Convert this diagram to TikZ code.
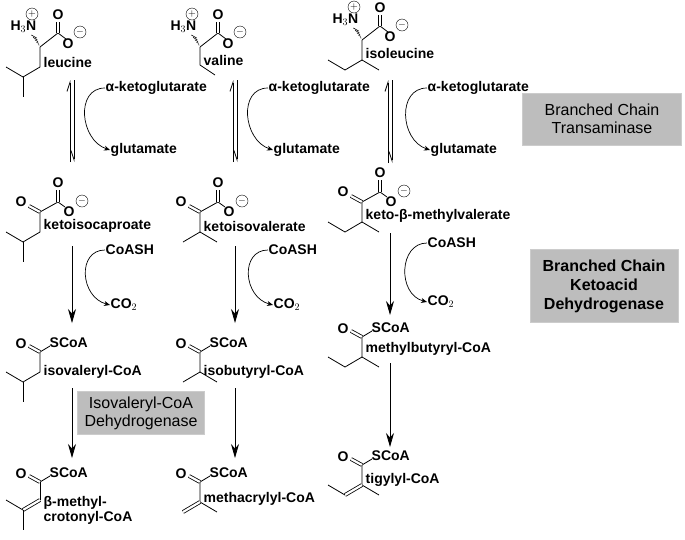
\documentclass[tikz,border=0pt]{standalone}
\usepackage{amsmath}
\usepackage{fontspec}
\setmainfont{Liberation Sans}
\usepackage{tikz}
\usetikzlibrary{arrows.meta,calc}

\tikzset{
  lbl/.style={font=\bfseries\fontsize{14}{15}\selectfont, inner sep=0.5pt},
  atom/.style={font=\bfseries\fontsize{14}{15}\selectfont, inner sep=0.5pt},
  chg/.style={circle, draw, inner sep=0pt, minimum size=12pt, font=\fontsize{10}{10}\selectfont},
  bnd/.style={line width=0.8pt},
  dbl/.style={line width=0.8pt, double, double distance=2.2pt},
  rxn/.style={line width=0.8pt, -{Stealth[length=14pt,width=8pt]}},
  eqh/.style={line width=0.8pt, -{Straight Barb[harpoon,length=9pt,width=6pt]}},
  eqs/.style={line width=0.8pt, -{Straight Barb[harpoon,swap,length=9pt,width=6pt]}},
  cur/.style={line width=0.7pt, -{Stealth[length=6pt,width=5pt]}},
  enz/.style={fill=black!26, draw=black!20, align=center, font=\fontsize{16}{18}\selectfont}
}

% top carbon at origin: amino acid head
\newcommand{\aminohead}{%
  \draw[bnd] (0,0) -- (18,-14) -- (26,-8);
  \draw[dbl] (18,-14) -- (18,-25);
  \node[atom] at (18,-32) {O};
  \node[atom] at (28,-3) {O};
  \node[chg] at (40,-15) {$-$};
  \foreach \t in {0.15,0.3,...,0.9}
    \draw[line width=0.6pt] ($(0,0)!\t!(-8,-14)+(\t*3.5,\t*2)$) -- ($(0,0)!\t!(-8,-14)-(\t*3.5,\t*2)$);
  \node[atom, anchor=east] at (-3,-20) {H$_3$N};
  \node[chg] at (-8,-33) {$+$};
}
% keto acid head
\newcommand{\ketohead}{%
  \draw[bnd] (0,0) -- (18,-10) -- (25,-5);
  \draw[dbl] (18,-10) -- (18,-22);
  \draw[dbl] (0,0) -- (-11,-6);
  \node[atom] at (-19,-10) {O};
  \node[atom] at (18,-29) {O};
  \node[atom] at (29,0) {O};
  \node[chg] at (42,-11) {$-$};
}
% acyl-CoA head
\newcommand{\coahead}{%
  \draw[bnd] (0,0) -- (10,-6);
  \draw[dbl] (0,0) -- (-11,-6);
  \node[atom] at (-19,-8) {O};
  \node[atom, anchor=west] at (9,-9) {SCoA};
}
\newcommand{\leuchain}{\draw[bnd] (0,0) -- (0,20) -- (-17,30) -- (-34,20); \draw[bnd] (-17,30) -- (-17,50);}
\newcommand{\isochain}{\draw[bnd] (0,0) -- (0,20) -- (-17,30) -- (-34,20); \draw[bnd] (0,20) -- (17,30);}
\newcommand{\ipchain}{\draw[bnd] (0,0) -- (0,20) -- (-17,30); \draw[bnd] (0,20) -- (17,30);}

\begin{document}
\begin{tikzpicture}[x=1pt,y=-1pt]
\useasboundingbox (0,0) rectangle (685,539);

% ---- row 1: amino acids
\begin{scope}[shift={(40,47)}]
  \aminohead \leuchain
  \node[lbl, anchor=west] (leu) at (3,15) {leucine};
\end{scope}
\begin{scope}[shift={(200,47)}]
  \aminohead
  \draw[bnd] (0,0) -- (0,18) -- (15,28);
  \node[lbl, anchor=west] (val) at (3,13) {valine};
\end{scope}
\begin{scope}[shift={(362,40)}]
  \aminohead \isochain
  \node[lbl, anchor=west] (ile) at (3,13) {isoleucine};
\end{scope}

% ---- row 2: keto acids
\begin{scope}[shift={(40,212)}]
  \ketohead \leuchain
  \node[lbl, anchor=west] (kic) at (3,14) {ketoisocaproate};
\end{scope}
\begin{scope}[shift={(200,212)}]
  \ketohead \ipchain
  \node[lbl, anchor=west] (kiv) at (3,14) {ketoisovalerate};
\end{scope}
\begin{scope}[shift={(362,202)}]
  \ketohead \isochain
  \node[lbl, anchor=west] (kmv) at (3,14) {keto-β-methylvalerate};
\end{scope}

% ---- row 3: acyl-CoA
\begin{scope}[shift={(40,352)}]
  \coahead \leuchain
  \node[lbl, anchor=west] (ivc) at (3,20) {isovaleryl-CoA};
\end{scope}
\begin{scope}[shift={(200,352)}]
  \coahead \ipchain
  \node[lbl, anchor=west] (ibc) at (3,20) {isobutyryl-CoA};
\end{scope}
\begin{scope}[shift={(362,337)}]
  \coahead \isochain
  \node[lbl, anchor=west] (mbc) at (3,12) {methylbutyryl-CoA};
\end{scope}

% ---- row 4: enoyl-CoA
\begin{scope}[shift={(40,482)}]
  \coahead
  \draw[bnd] (0,0) -- (0,18);
  \draw[dbl] (0,18) -- (-17,28);
  \draw[bnd] (-17,28) -- (-34,18);
  \draw[bnd] (-17,28) -- (-17,48);
  \node[lbl, anchor=west, align=left] (mcc) at (3,28) {β-methyl-\\crotonyl-CoA};
\end{scope}
\begin{scope}[shift={(200,482)}]
  \coahead
  \draw[bnd] (0,0) -- (0,20) -- (17,30);
  \draw[dbl] (0,20) -- (-17,30);
  \node[lbl, anchor=west] (mac) at (3,17) {methacrylyl-CoA};
\end{scope}
\begin{scope}[shift={(362,465)}]
  \coahead
  \draw[bnd] (0,0) -- (0,20) -- (17,30);
  \draw[dbl] (0,20) -- (-17,30);
  \draw[bnd] (-17,30) -- (-34,20);
  \node[lbl, anchor=west] (tig) at (3,15) {tigylyl-CoA};
\end{scope}

% ---- arrows, columns 1 and 2
\foreach \c/\x in {a/72,b/235}{
  \coordinate (eqt\c) at (\x,80);  \coordinate (eqb\c) at (\x,162);
  \draw[eqh] ($(eqb\c)+(-2,0)$) -- ($(eqt\c)+(-2,0)$);
  \draw[eqs] ($(eqt\c)+(2,0)$) -- ($(eqb\c)+(2,0)$);
  \node[lbl, anchor=west] (akg\c) at (\x+33,88) {α-ketoglutarate};
  \node[lbl, anchor=west] (glu\c) at (\x+38,150) {glutamate};
  \draw[cur] (akg\c.west) .. controls +(-30,0) and +(-30,-10) .. (glu\c.west);
  \coordinate (r2t\c) at (\x,246);  \coordinate (r2b\c) at (\x,323);
  \draw[rxn] (r2t\c) -- (r2b\c);
  \node[lbl, anchor=west] (coash\c) at (\x+33,250) {CoASH};
  \node[lbl, anchor=west] (co\c) at (\x+38,305) {CO$_2$};
  \draw[cur] (coash\c.west) .. controls +(-28,0) and +(-30,-8) .. (co\c.west);
  \coordinate (r3t\c) at (\x,388);  \coordinate (r3b\c) at (\x,458);
  \draw[rxn] (r3t\c) -- (r3b\c);
}
% ---- arrows, column 3
\coordinate (eqtc) at (390,80);  \coordinate (eqbc) at (390,163);
\draw[eqh] ($(eqbc)+(-2,0)$) -- ($(eqtc)+(-2,0)$);
\draw[eqs] ($(eqtc)+(2,0)$) -- ($(eqbc)+(2,0)$);
\node[lbl, anchor=west] (akgc) at (427,88) {α-ketoglutarate};
\node[lbl, anchor=west] (gluc) at (430,150) {glutamate};
\draw[cur] (akgc.west) .. controls +(-30,0) and +(-30,-10) .. (gluc.west);
\coordinate (r2tc) at (390,233);  \coordinate (r2bc) at (390,315);
\draw[rxn] (r2tc) -- (r2bc);
\node[lbl, anchor=west] (coashc) at (427,243) {CoASH};
\node[lbl, anchor=west] (coc) at (427,302) {CO$_2$};
\draw[cur] (coashc.west) .. controls +(-28,0) and +(-30,-8) .. (coc.west);
\coordinate (r3tc) at (390,363);  \coordinate (r3bc) at (390,447);
\draw[rxn] (r3tc) -- (r3bc);

% ---- enzymes
\node[enz, minimum width=159pt, minimum height=52pt] (bct) at (602,119) {Branched Chain\\Transaminase};
\node[enz, minimum width=148pt, minimum height=73pt, font=\bfseries\fontsize{16}{19}\selectfont] (bckd) at (604,286) {Branched Chain\\Ketoacid\\Dehydrogenase};
\node[enz, minimum width=127pt, minimum height=43pt] (ivd) at (141,413) {Isovaleryl-CoA\\Dehydrogenase};
\end{tikzpicture}
\end{document}
